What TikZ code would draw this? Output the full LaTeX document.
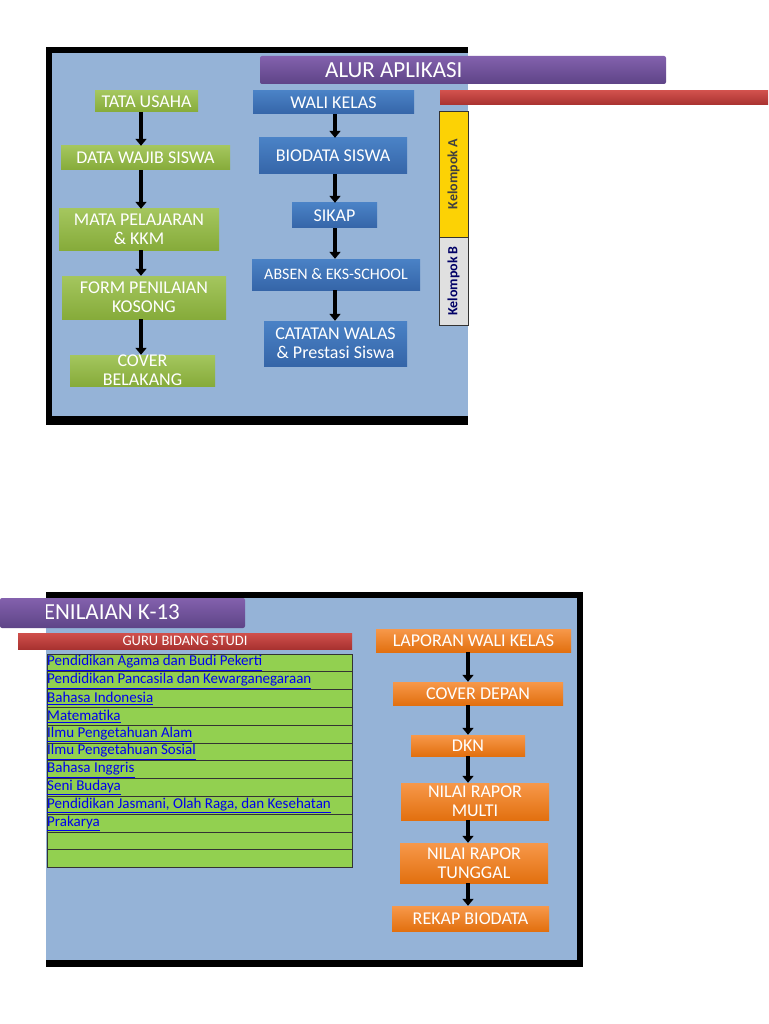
\documentclass[tikz,border=0pt]{standalone}
\usepackage{fontspec}
\setmainfont{Carlito}
\usetikzlibrary{arrows.meta}
\definecolor{bg}{HTML}{95B3D7}
\definecolor{gT}{HTML}{A4C65E}\definecolor{gB}{HTML}{86AB3A}
\definecolor{bT}{HTML}{4A82C6}\definecolor{bB}{HTML}{3565A8}
\definecolor{oT}{HTML}{F7984A}\definecolor{oB}{HTML}{E2700F}
\definecolor{pT}{HTML}{8361AD}\definecolor{pB}{HTML}{5E4487}
\definecolor{rT}{HTML}{D0504C}\definecolor{rB}{HTML}{A83230}
\definecolor{tg}{HTML}{92D050}
\definecolor{lk}{HTML}{0000EE}
\begin{document}
\begin{tikzpicture}[x=1pt,y=-1pt,
 bx/.style={inner sep=0pt,text=white,align=center,font=\fontsize{18}{19}\selectfont},
 gbox/.style={bx,top color=gT,bottom color=gB},
 bbox/.style={bx,top color=bT,bottom color=bB},
 obox/.style={bx,top color=oT,bottom color=oB},
 arr/.style={line width=4pt,-{Triangle[length=7pt,width=11pt]}},
 cell/.style={draw=black!80,line width=0.8pt,fill=tg},
 lnk/.style={anchor=west,inner sep=0pt,text=lk,font=\fontsize{15}{15}\selectfont}]
\useasboundingbox (0,0) rectangle (768,1024);
\fill[white] (0,0) rectangle (768,1024);
% top panel
\fill[black] (46,47) rectangle (468,425);
\fill[bg] (52,53) rectangle (468,416);
\node[inner sep=0,minimum width=406pt,minimum height=28pt,top color=pT,bottom color=pB,rounded corners=2pt] (t1) at (463,70) {};
\begin{scope}
\clip (255,50) rectangle (468,90);
\node[anchor=west,text=white,inner sep=0,font=\fontsize{23}{23}\selectfont] (t1t) at (325,70) {ALUR APLIKASI PENILAIAN K-13};
\end{scope}
\node[inner sep=0,minimum width=328pt,minimum height=14pt,top color=rT,bottom color=rB] (r1) at (604,98) {};
\node[draw=black!80,fill=yellow!70!orange,inner sep=0,minimum width=29pt,minimum height=126pt] (ka) at (453.5,174) {};
\node[rotate=90,font=\bfseries\fontsize{14}{14}\selectfont,text=black!75] at (ka) {Kelompok A};
\node[draw=black!80,fill=black!12,inner sep=0,minimum width=29pt,minimum height=88pt] (kb) at (453.5,281) {};
\node[rotate=90,font=\bfseries\fontsize{14}{14}\selectfont,text=blue!40!black] at (kb) {Kelompok B};
\node[gbox,minimum width=103pt,minimum height=21pt] (g1) at (146.5,101.5) {TATA USAHA};
\node[gbox,minimum width=169pt,minimum height=24pt] (g2) at (145.5,158) {DATA WAJIB SISWA};
\node[gbox,minimum width=160pt,minimum height=41pt] (g3) at (139,229.5) {MATA PELAJARAN\\\& KKM};
\node[gbox,minimum width=164pt,minimum height=43pt] (g4) at (144,297.5) {FORM PENILAIAN\\KOSONG};
\node[gbox,minimum width=145pt,minimum height=31pt] (g5) at (142.5,370.5) {COVER\\BELAKANG};
\node[bbox,minimum width=161pt,minimum height=23pt] (b1) at (333.5,102.5) {WALI KELAS};
\node[bbox,minimum width=148pt,minimum height=36pt] (b2) at (333,156) {BIODATA SISWA};
\node[bbox,minimum width=85pt,minimum height=25pt] (b3) at (334.5,215.5) {SIKAP};
\node[bbox,minimum width=168pt,minimum height=31pt,font=\fontsize{16}{16}\selectfont] (b4) at (336,274.5) {ABSEN \& EKS-SCHOOL};
\node[bbox,minimum width=143pt,minimum height=45pt] (b5) at (335.5,343.5) {CATATAN WALAS\\\& Prestasi Siswa};
\coordinate (ga) at (141,0);\coordinate (ba) at (335,0);
\foreach \a/\b in {g1/g2,g2/g3,g3/g4,g4/g5}{\draw[arr] (ga|-\a.south) -- (ga|-\b.north);}
\foreach \a/\b in {b1/b2,b2/b3,b3/b4,b4/b5}{\draw[arr] (ba|-\a.south) -- (ba|-\b.north);}
% bottom panel
\fill[black] (46,592) rectangle (583,967);
\fill[bg] (46,598) rectangle (577,960);
\node[inner sep=0,minimum width=245pt,minimum height=30pt,top color=pT,bottom color=pB,rounded corners=2pt] (t2) at (122.5,613) {};
\begin{scope}
\clip (46,595) rectangle (250,632);
\node[anchor=east,text=white,inner sep=0,font=\fontsize{23}{23}\selectfont] (t2t) at (180,612) {ALUR APLIKASI PENILAIAN K-13};
\end{scope}
\node[inner sep=0,minimum width=334pt,minimum height=16pt,top color=rT,bottom color=rB,text=white,font=\fontsize{14.5}{14.5}\selectfont] (r2) at (185,641) {GURU BIDANG STUDI};
\foreach \i/\t in {0/Pendidikan Agama dan Budi Pekerti,1/Pendidikan Pancasila dan Kewarganegaraan,2/Bahasa Indonesia,3/Matematika,4/Ilmu Pengetahuan Alam,5/Ilmu Pengetahuan Sosial,6/Bahasa Inggris,7/Seni Budaya,8/{Pendidikan Jasmani, Olah Raga, dan Kesehatan},9/Prakarya,10/,11/}{
 \draw[cell] (47,654+\i*17.8) rectangle (352,654+\i*17.8+17.8);
 \node[lnk] (L\i) at (47,663+\i*17.8) {\underline{\t}};
}
\node[obox,minimum width=195pt,minimum height=23pt] (o1) at (473.5,640.5) {LAPORAN WALI KELAS};
\node[obox,minimum width=170pt,minimum height=23pt] (o2) at (478,693.5) {COVER DEPAN};
\node[obox,minimum width=114pt,minimum height=21pt] (o3) at (468,745.5) {DKN};
\node[obox,minimum width=148pt,minimum height=37pt] (o4) at (475,801.5) {NILAI RAPOR\\MULTI};
\node[obox,minimum width=148pt,minimum height=40pt] (o5) at (474,863) {NILAI RAPOR\\TUNGGAL};
\node[obox,minimum width=157pt,minimum height=25pt] (o6) at (470.5,918.5) {REKAP BIODATA};
\coordinate (oa) at (468,0);
\foreach \a/\b in {o1/o2,o2/o3,o3/o4,o4/o5,o5/o6}{\draw[arr] (oa|-\a.south) -- (oa|-\b.north);}
\end{tikzpicture}
\end{document}
